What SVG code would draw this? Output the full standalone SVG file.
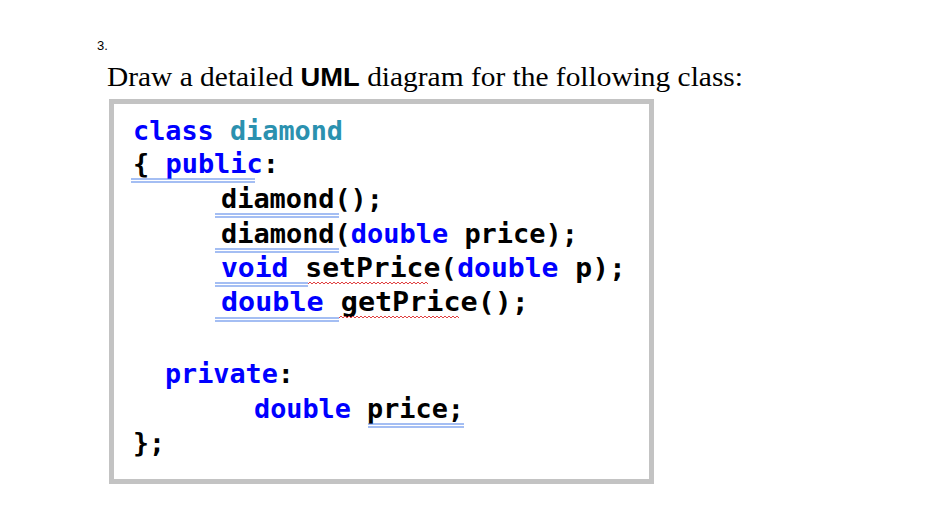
<svg xmlns="http://www.w3.org/2000/svg" width="944" height="523" viewBox="0 0 944 523">
<style>
.c{font-family:"DejaVu Sans Mono","Liberation Mono",monospace;font-weight:bold;font-size:26px;fill:#000}
.k{fill:#0000ff}.t{fill:#2b91af}
.u{stroke:#4a7fe8;stroke-width:1.2;fill:none}
.r{stroke:#e04040;stroke-width:1;fill:none}
</style>
<rect width="944" height="523" fill="#fff"/>
<text x="97" y="50" font-family="Liberation Sans,Arial,sans-serif" font-size="13">3.</text>
<text x="107" y="86" font-family="Liberation Serif,Times New Roman,serif" font-size="28" textLength="636" lengthAdjust="spacingAndGlyphs">Draw a detailed <tspan font-family="Liberation Sans,Arial,sans-serif" font-weight="bold" font-size="26">UML</tspan> diagram for the following class:</text>
<rect x="111.5" y="101.5" width="540" height="380" fill="#fff" stroke="#c3c3c3" stroke-width="5"/>
<g class="c" xml:space="preserve">
<text x="133" y="140" textLength="210" lengthAdjust="spacingAndGlyphs"><tspan class="k">class</tspan> <tspan class="t">diamond</tspan></text>
<text x="133" y="173" textLength="146" lengthAdjust="spacingAndGlyphs">{ <tspan class="k">public</tspan>:</text>
<text x="221" y="208" textLength="162" lengthAdjust="spacingAndGlyphs">diamond();</text>
<text x="221" y="243" textLength="357" lengthAdjust="spacingAndGlyphs">diamond(<tspan class="k">double</tspan> price);</text>
<text x="221" y="277" textLength="405" lengthAdjust="spacingAndGlyphs"><tspan class="k">void</tspan>  setPrice(<tspan class="k">double</tspan> p);</text>
<text x="221" y="311" textLength="308" lengthAdjust="spacingAndGlyphs"><tspan class="k">double</tspan>  getPrice();</text>
<text x="165" y="383" textLength="129" lengthAdjust="spacingAndGlyphs"><tspan class="k">private</tspan>:</text>
<text x="254" y="418" textLength="210" lengthAdjust="spacingAndGlyphs"><tspan class="k">double</tspan> price;</text>
<text x="133" y="452" textLength="32" lengthAdjust="spacingAndGlyphs">};</text>
</g>
<g class="u">
<path d="M131 179H255M131 182H255"/>
<path d="M215 214H339M215 217H339"/>
<path d="M215 249H339M215 252H339"/>
<path d="M215 283H308M215 286H308"/>
<path d="M215 318H339M215 321H339"/>
<path d="M368 424H464M368 427H464"/>
</g>
<g class="r">
<polyline points="308,284 310,282 312,284 314,282 316,284 318,282 320,284 322,282 324,284 326,282 328,284 330,282 332,284 334,282 336,284 338,282 340,284 342,282 344,284 346,282 348,284 350,282 352,284 354,282 356,284 358,282 360,284 362,282 364,284 366,282 368,284 370,282 372,284 374,282 376,284 378,282 380,284 382,282 384,284 386,282 388,284 390,282 392,284 394,282 396,284 398,282 400,284 402,282 404,284 406,282 408,284 410,282 412,284 414,282 416,284 418,282 420,284 422,282 424,284 426,282 428,284"/>
<polyline points="339,318 341,316 343,318 345,316 347,318 349,316 351,318 353,316 355,318 357,316 359,318 361,316 363,318 365,316 367,318 369,316 371,318 373,316 375,318 377,316 379,318 381,316 383,318 385,316 387,318 389,316 391,318 393,316 395,318 397,316 399,318 401,316 403,318 405,316 407,318 409,316 411,318 413,316 415,318 417,316 419,318 421,316 423,318 425,316 427,318 429,316 431,318 433,316 435,318 437,316 439,318 441,316 443,318 445,316 447,318 449,316 451,318 453,316 455,318 457,316 459,318"/>
</g>
</svg>
